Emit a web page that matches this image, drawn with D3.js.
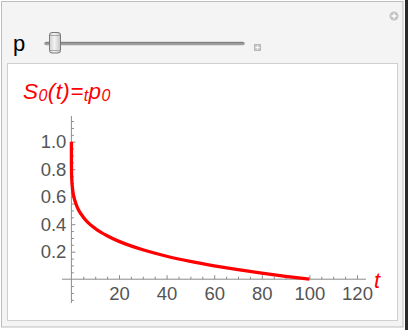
<html>
<meta charset="utf-8" />
<head>
<title>S0(t) survival curve</title>
<script src="https://cdn.jsdelivr.net/npm/d3@7"></script>
<style>
	body { margin: 0; background: #fff; }
	svg { display: block; }
	.tick text { font-family: "Liberation Sans", Arial, sans-serif; }
</style>
<script>
// values
let tValues = [0, 0.01, 0.1, 0.5, 1, 2, 3, 5, 7, 10, 15, 20, 25, 30, 40, 50, 60, 70, 80, 90, 100];
let sValues = [1.0, 0.84, 0.75, 0.654, 0.602, 0.543, 0.504, 0.451, 0.412, 0.369, 0.316, 0.275, 0.242, 0.214, 0.167, 0.129, 0.097, 0.069, 0.044, 0.021, 0.0];
let xTickLabels = [20, 40, 60, 80, 100, 120];
let yTickLabels = [0.2, 0.4, 0.6, 0.8, 1.0];

window.onload = function() {

	let svg = d3.select('svg');

	// outer manipulate frame
	svg.append('rect').attr('x', 405).attr('y', 0).attr('width', 3).attr('height', 330).style('fill', '#2a2a2a');
	svg.append('rect')
		.attr('x', 1.5).attr('y', 1.5).attr('width', 401.5).attr('height', 325.5)
		.style('fill', '#f4f4f4').style('stroke', '#bdbdbd');

	// little "+" circle top right
	svg.append('circle').attr('cx', 394).attr('cy', 16).attr('r', 4.5).style('fill', '#c4c4c4');
	svg.append('path').attr('d', 'M391.5,16H396.5M394,13.5V18.5').style('stroke', '#fff').style('stroke-width', 1.4);

	// slider
	svg.append('text').attr('x', 13).attr('y', 51)
		.style('font-family', '"Liberation Sans", Arial, sans-serif').style('font-size', '22px')
		.text('p');

	svg.append('line').attr('x1', 46).attr('x2', 243).attr('y1', 43.5).attr('y2', 43.5)
		.style('stroke', '#9d9d9d').style('stroke-width', 3.5).style('stroke-linecap', 'round');
	svg.append('line').attr('x1', 46).attr('x2', 243).attr('y1', 42.5).attr('y2', 42.5)
		.style('stroke', '#7d7d7d').style('stroke-width', 1).style('stroke-linecap', 'round');

	let grad = svg.append('defs').append('linearGradient').attr('id', 'thumb')
		.attr('x1', 0).attr('x2', 1).attr('y1', 0).attr('y2', 0);
	grad.append('stop').attr('offset', '0%').attr('stop-color', '#d0d0d0');
	grad.append('stop').attr('offset', '45%').attr('stop-color', '#f2f2f2');
	grad.append('stop').attr('offset', '100%').attr('stop-color', '#c4c4c4');
	svg.append('rect').attr('x', 49.5).attr('y', 32.5).attr('width', 11).attr('height', 20.5).attr('rx', 2.5)
		.style('fill', 'url(#thumb)').style('stroke', '#7a7a7a');
	svg.append('line').attr('x1', 50).attr('x2', 60).attr('y1', 35.5).attr('y2', 35.5).style('stroke', '#a8a8a8');
	svg.append('line').attr('x1', 50).attr('x2', 60).attr('y1', 50.5).attr('y2', 50.5).style('stroke', '#a8a8a8');

	svg.append('rect').attr('x', 254.5).attr('y', 44.5).attr('width', 6).attr('height', 6)
		.style('fill', '#c8c8c8').style('stroke', '#b8b8b8');
	svg.append('path').attr('d', 'M255.5,47.5H259.5M257.5,45.5V49.5').style('stroke', '#fff').style('stroke-width', 1);

	// white plot panel
	svg.append('rect')
		.attr('x', 7.5).attr('y', 63.5).attr('width', 390).attr('height', 257)
		.style('fill', '#fff').style('stroke', '#cfcfcf');

	// scales
	let x = d3.scaleLinear().domain([0, 120]).range([71.4, 357.0]);
	let y = d3.scaleLinear().domain([0, 1]).range([279.2, 141.7]);

	let axisColor = '#8c8c8c';
	let labelColor = '#555555';

	function minorVals(lo, hi, step, majors) {
		let out = [];
		for (let v = lo; v <= hi + 1e-9; v += step) {
			let r = Math.round(v * 100) / 100;
			if (r !== 0 && majors.indexOf(r) < 0) out.push(r);
		}
		return out;
	}

	// x axis
	svg.append('line').attr('x1', 62).attr('x2', 366).attr('y1', y(0)).attr('y2', y(0))
		.style('stroke', axisColor);
	let gx = svg.append('g').attr('transform', 'translate(0,' + y(0) + ')')
		.call(d3.axisBottom(x).tickValues(xTickLabels).tickSizeInner(-4).tickSizeOuter(0)
			.tickPadding(7).tickFormat(d3.format('d')));
	svg.append('g').attr('transform', 'translate(0,' + y(0) + ')')
		.call(d3.axisBottom(x).tickValues(minorVals(5, 120, 5, xTickLabels)).tickSizeInner(-2.5)
			.tickSizeOuter(0).tickFormat(''));

	// y axis
	svg.append('line').attr('x1', x(0)).attr('x2', x(0)).attr('y1', 116).attr('y2', 303)
		.style('stroke', axisColor);
	let gy = svg.append('g').attr('transform', 'translate(' + x(0) + ',0)')
		.call(d3.axisLeft(y).tickValues(yTickLabels).tickSizeInner(-4).tickSizeOuter(0)
			.tickPadding(5).tickFormat(d3.format('.1f')));
	svg.append('g').attr('transform', 'translate(' + x(0) + ',0)')
		.call(d3.axisLeft(y).tickValues(minorVals(-0.15, 1.15, 0.05, yTickLabels)).tickSizeInner(-2.5)
			.tickSizeOuter(0).tickFormat(''));

	svg.selectAll('.domain').remove();
	svg.selectAll('.tick line').style('stroke', axisColor);
	svg.selectAll('.tick text').style('fill', labelColor).style('font-size', '18.5px');
	gx.selectAll('.tick text').attr('dy', '0.72em');

	// curve
	let pts = tValues.map((t, i) => [t, sValues[i]]);
	svg.append('path')
		.datum(pts)
		.attr('d', d3.line().x((d) => x(d[0])).y((d) => y(d[1])).curve(d3.curveMonotoneX))
		.style('fill', 'none')
		.style('stroke', '#ff0000')
		.style('stroke-width', 3.3);

	// labels
	let title = svg.append('text').attr('x', 23).attr('y', 99)
		.style('font-family', '"Liberation Sans", Arial, sans-serif')
		.style('font-style', 'italic').style('font-size', '22.5px').style('fill', '#ff0000')
		.style('letter-spacing', '0.4px');
	title.append('tspan').text('S');
	title.append('tspan').attr('dy', 1.5).style('font-size', '16px').text('0');
	title.append('tspan').attr('dy', -1.5).text('(t)=');
	title.append('tspan').attr('dy', 1.5).style('font-size', '16px').text('t');
	title.append('tspan').attr('dy', -1.5).text('p');
	title.append('tspan').attr('dy', 1.5).style('font-size', '16px').text('0');

	svg.append('text').attr('x', 374).attr('y', 288)
		.style('font-family', '"Liberation Sans", Arial, sans-serif')
		.style('font-style', 'italic').style('font-size', '22px').style('fill', '#ff0000')
		.text('t');
}
</script>
</head>
<body>
<svg width="408" height="330"></svg>
</body>
</html>
